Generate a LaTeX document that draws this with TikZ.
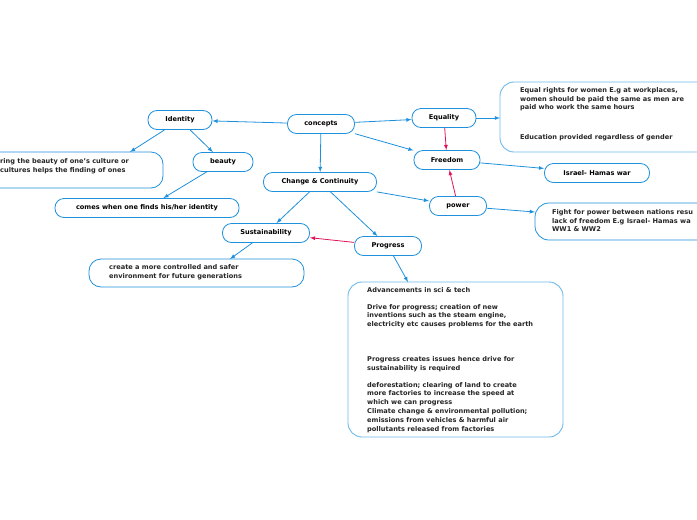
\documentclass[tikz,border=0pt]{standalone}
\usepackage{fontspec}
\setmainfont{DejaVu Sans}
\definecolor{bl}{RGB}{30,144,220}
\definecolor{lbl}{RGB}{110,185,235}
\definecolor{rd}{RGB}{225,20,90}
\begin{document}
\begin{tikzpicture}[x=1pt,y=-1pt,
 bx/.style={draw=bl,line width=0.8pt,rounded corners=9pt,fill=white,font=\fontsize{6.6}{8.8}\selectfont\bfseries,inner sep=0pt},
 lb/.style={draw=lbl,line width=0.9pt,rounded corners=14pt,fill=white},
 tx/.style={font=\fontsize{6.6}{8.8}\selectfont\bfseries,anchor=north west,align=left,inner sep=0pt,text=black!85},
 ar/.style={draw=bl,line width=0.8pt,-latex},
 rr/.style={draw=rd,line width=0.8pt,-latex}]
\useasboundingbox (0,0) rectangle (697,520);
\node[bx,minimum width=67pt,minimum height=19pt] (concepts) at (321,124) {concepts};
\node[bx,minimum width=64pt,minimum height=19pt] (identity) at (180,120) {Identity};
\node[bx,minimum width=64pt,minimum height=19pt] (equality) at (444,118) {Equality};
\node[bx,minimum width=66pt,minimum height=19pt] (freedom) at (447,160) {Freedom};
\node[bx,minimum width=113pt,minimum height=19pt] (change) at (320,182) {Change \& Continuity};
\node[bx,minimum width=60pt,minimum height=19pt] (beauty) at (223,162) {beauty};
\node[bx,minimum width=57pt,minimum height=19pt] (power) at (458,206) {power};
\node[bx,minimum width=87pt,minimum height=19pt] (sust) at (266,233) {Sustainability};
\node[bx,minimum width=67pt,minimum height=19pt] (progress) at (388,246) {Progress};
\node[bx,minimum width=184pt,minimum height=19pt] (comes) at (147,208) {comes when one finds his/her identity};
\node[bx,minimum width=105pt,minimum height=19pt] (israel) at (597,173) {Israel- Hamas war};
% text boxes
\draw[bx,rounded corners=12pt] (-20,152) rectangle (163,188);
\coordinate (idt) at (130,152);
\node[tx] at (0,158) {ring the beauty of one's culture or\\cultures helps the finding of ones};
\draw[bx,rounded corners=12pt] (89,259) rectangle (304,287);
\coordinate (cr) at (230,259);
\node[tx] at (109,264) {create a more controlled and safer\\environment for future generations};
\draw[lb] (500,82) rectangle (720,152);
\coordinate (eqb) at (500,118);
\node[tx] at (520,87) {Equal rights for women E.g at workplaces,\\women should be paid the same as men are\\paid who work the same hours\\[21pt]Education provided regardless of gender};
\draw[bx,rounded corners=14pt] (535,203) rectangle (720,240);
\coordinate (fb) at (535,212);
\node[tx] at (552,209) {Fight for power between nations resu\\lack of freedom E.g Israel- Hamas wa\\WW1 \& WW2};
\draw[lb] (348,282) rectangle (563,437);
\coordinate (pb) at (408,282);
\node[tx,font=\fontsize{6.6}{8.8}\selectfont\bfseries] at (367,287) {Advancements in sci \& tech\\[8pt]Drive for progress; creation of new\\inventions such as the steam engine,\\electricity etc causes problems for the earth\\[26pt]Progress creates issues hence drive for\\sustainability is required\\[8pt]deforestation; clearing of land to create\\more factories to increase the speed at\\which we can progress\\Climate change \& environmental pollution;\\emissions from vehicles \& harmful air\\pollutants released from factories};
% edges
\draw[ar] (concepts) -- (identity);
\draw[ar] (concepts) -- (equality);
\draw[ar] (concepts) -- (freedom);
\draw[ar] (concepts) -- (change);
\draw[ar] (identity) -- (idt);
\draw[ar] (identity) -- (beauty);
\draw[ar] (beauty) -- (comes);
\draw[ar] (change) -- (sust);
\draw[ar] (change) -- (progress);
\draw[ar] (change) -- (power);
\draw[ar] (sust) -- (cr);
\draw[ar] (progress) -- (pb);
\draw[ar] (equality) -- (eqb);
\draw[ar] (freedom) -- (israel);
\draw[ar] (power) -- (fb);
\draw[rr] (progress) -- (sust);
\draw[rr] (equality) -- (freedom);
\draw[rr] (power) -- (freedom);
\end{tikzpicture}
\end{document}
